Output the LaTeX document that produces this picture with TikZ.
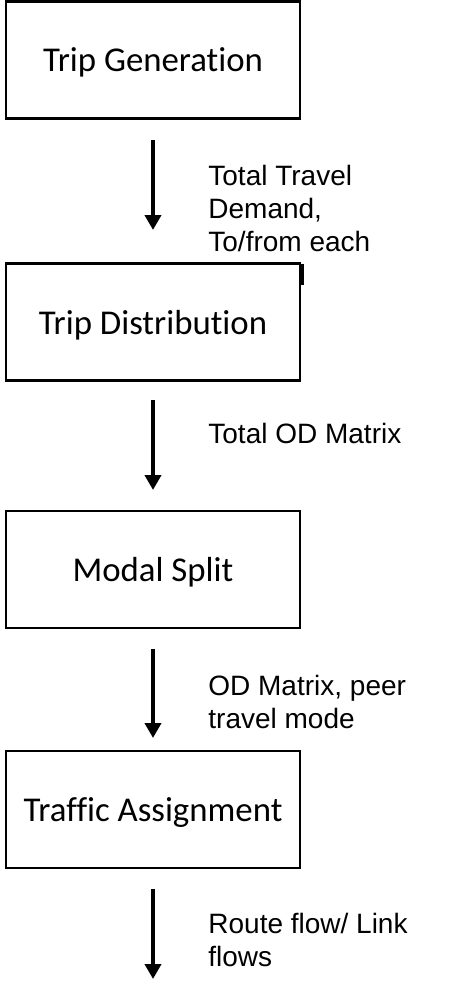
\documentclass[tikz,border=0pt]{standalone}
\usepackage{fontspec}
\setmainfont{Carlito}[Ligatures=CommonOff]
\newfontfamily\notefont{Liberation Sans}
\usetikzlibrary{arrows.meta,positioning}

\begin{document}
\begin{tikzpicture}[
  >={Triangle[width=8pt,length=7.5pt]},
  stage/.style={draw,line width=1.35pt,minimum width=147pt,minimum height=58.5pt,inner sep=0pt,outer sep=0pt,text depth=0pt,font=\fontsize{17.4}{20}\selectfont},
  flow/.style={->,line width=2.4pt},
  note/.style={inner sep=0pt,align=left,font=\notefont\fontsize{14}{16.7}\selectfont},
  ]
  \useasboundingbox (0,0) rectangle (237pt,-498pt);
  \node[stage] (gen) at (76.5pt,-30pt) {Trip Generation};
  \node[stage, below = 72.5pt of gen] (dist) {Trip Distribution};
  \node[stage, below = 65.25pt of dist] (modal) {Modal Split};
  \node[stage, below = 61.5pt of modal] (assign) {Traffic Assignment};
  \coordinate[below = 55.5pt of assign.south] (out);

  \node[note, below right = 23pt and 27.5pt of gen.south] (demand) {Total Travel\\Demand,\\To/from each};
  \node[note, below right = 21pt and 27.5pt of dist.south] (odtotal) {Total OD Matrix};
  \node[note, below right = 23.25pt and 27.5pt of modal.south] (odmode) {OD Matrix, peer\\travel mode};
  \node[note, below right = 22.25pt and 27.5pt of assign.south] (flows) {Route flow/ Link\\flows};

  \draw[flow, shorten <=10.75pt, shorten >=16.75pt] (gen) -- (dist);
  \draw[flow, shorten <=9.75pt, shorten >=10.5pt] (dist) -- (modal);
  \draw[flow, shorten <=10.5pt, shorten >=6.5pt] (modal) -- (assign);
  \draw[flow, shorten <=10.5pt] (assign) -- (out);
  \draw[line width=2pt] ([xshift=1pt]dist.north east) -- ++(0,-10.5pt);

\end{tikzpicture}
\end{document}
